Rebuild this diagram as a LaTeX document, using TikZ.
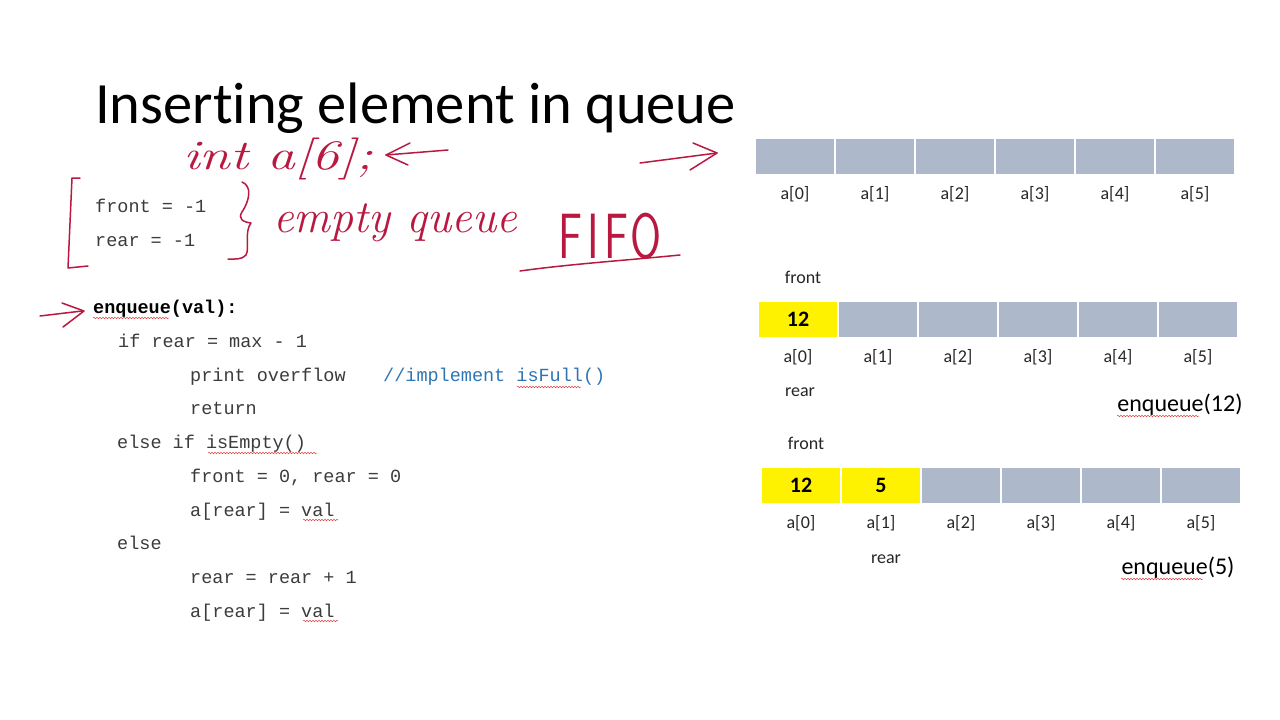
\documentclass[tikz,border=0pt]{standalone}
\usepackage{fontspec}
\setmainfont{Carlito}[Ligatures=NoCommon]
\newfontfamily\codefont{Liberation Mono}
\newfontfamily\handfont{Latin Modern Roman}
\usetikzlibrary{decorations.pathmorphing}

\definecolor{ink}{RGB}{185,25,65}
\definecolor{cellgray}{RGB}{173,185,202}
\definecolor{codegray}{RGB}{60,60,60}
\definecolor{cmtblue}{RGB}{46,117,182}
\definecolor{spell}{RGB}{225,70,70}

\tikzset{
  cell/.style={draw=white,line width=1.2pt,minimum width=80pt,minimum height=37pt,inner sep=0pt,
    font=\fontsize{22}{24}\selectfont\bfseries},
  idx/.style={inner sep=0pt,text=black!85,font=\fontsize{18}{20}\selectfont},
  code/.style={anchor=base west,inner sep=0pt,text=codegray,font=\codefont\fontsize{18.5}{20}\selectfont},
  hand/.style={draw=ink,line width=1.5pt,line cap=round,line join=round},
  handtext/.style={inner sep=0pt,text=ink,font=\handfont\itshape},
  squig/.style={draw=spell,line width=0.5pt,decorate,decoration={snake,amplitude=0.8pt,segment length=3pt}}
}

\begin{document}
\begin{tikzpicture}[x=1pt,y=-1pt]
  \useasboundingbox[fill=white] (0,0) rectangle (1280,720);

  % title
  \node[anchor=base west,inner sep=0pt,font=\fontsize{58.5}{60}\selectfont] (title) at (95,123)
    {Inserting element in queue};

  % code
  \node[code] (frontinit) at (95,212) {front = -1};
  \node[code] (rearinit) at (95,246) {rear = -1};
  \node[code,font=\codefont\bfseries\fontsize{18.5}{20}\selectfont,text=black] (enq) at (93,313) {enqueue(val):};
  \node[code] (c1) at (118,347) {if rear = max - 1};
  \node[code] (c2) at (190,381) {print overflow};
  \node[code,text=cmtblue] (cmt) at (383,381) {//implement isFull()};
  \node[code] (c3) at (190,414) {return};
  \node[code] (c4) at (117,448) {else if isEmpty()};
  \node[code] (c5) at (190,482) {front = 0, rear = 0};
  \node[code] (c6) at (190,516) {a[rear] = val};
  \node[code] (c7) at (117,549) {else};
  \node[code] (c8) at (190,583) {rear = rear + 1};
  \node[code] (c9) at (190,617) {a[rear] = val};

  % spelling marks
  \draw[squig] (93,318) -- (169,318);
  \draw[squig] (517,387) -- (581,387);
  \draw[squig] (208,453) -- (317,453);
  \draw[squig] (303,520) -- (338,520);
  \draw[squig] (303,621) -- (338,621);

  % empty array
  \foreach \i in {0,...,5} {
    \node[cell,fill=cellgray] (p\i) at ({795+80*\i},156.5) {};
    \node[idx] (pl\i) at ({795+80*\i},194) {a[\i]};
  }

  % after enqueue(12)
  \foreach \i/\v/\c in {0/12/yellow,1//cellgray,2//cellgray,3//cellgray,4//cellgray,5//cellgray} {
    \node[cell,fill=\c] (q\i) at ({798+80*\i},319.5) {\v};
    \node[idx] (ql\i) at ({798+80*\i},357) {a[\i]};
  }
  \node[idx] (qfront) at (803,277) {front};
  \node[idx] (qrear) at (800,392) {rear};
  \node[inner sep=0pt,font=\fontsize{24}{26}\selectfont] (op1) at (1180,405) {enqueue(12)};
  \draw[squig] (1117,416) -- (1199,416);

  % after enqueue(5)
  \foreach \i/\v/\c in {0/12/yellow,1/5/yellow,2//cellgray,3//cellgray,4//cellgray,5//cellgray} {
    \node[cell,fill=\c] (r\i) at ({801+80*\i},485.5) {\v};
    \node[idx] (rl\i) at ({801+80*\i},523) {a[\i]};
  }
  \node[idx] (rfront) at (806,443) {front};
  \node[idx] (rrear) at (886,559) {rear};
  \node[inner sep=0pt,font=\fontsize{24}{26}\selectfont] (op2) at (1178,568) {enqueue(5)};
  \draw[squig] (1121,579) -- (1203,579);

  % handwriting
  \node[handtext,font=\handfont\itshape\fontsize{42}{44}\selectfont,xscale=1.32] (decl) at (278,159) {int a[6];};
  \node[handtext,anchor=base,font=\handfont\itshape\fontsize{46}{48}\selectfont] (empty) at (395,232) {empty queue};
  \node[handtext,anchor=base,font=\sffamily\fontsize{64}{66}\selectfont,xscale=0.7] (fifo) at (610,258)
    {F\kern8pt I\kern8pt F\kern3pt O};
  \draw[hand] (448,150) -- (386,155);
  \draw[hand] (410,143) -- (386,155) -- (408,165);
  \draw[hand] (640,163) -- (717,153);
  \draw[hand] (693,143) -- (717,153) -- (690,170);
  \draw[hand] (80,178) -- (72,178) -- (68,268) -- (88,266);
  \draw[hand] (242,182) .. controls (252,186) and (250,200) .. (242,212)
    .. controls (238,218) and (242,222) .. (251,223)
    .. controls (244,232) and (250,248) .. (246,255)
    .. controls (242,260) and (234,259) .. (228,259);
  \draw[hand] (520,271) .. controls (570,264) and (630,260) .. (680,255);
  \draw[hand] (40,316) -- (82,311);
  \draw[hand] (62,303) -- (84,311) -- (63,327);
\end{tikzpicture}
\end{document}
